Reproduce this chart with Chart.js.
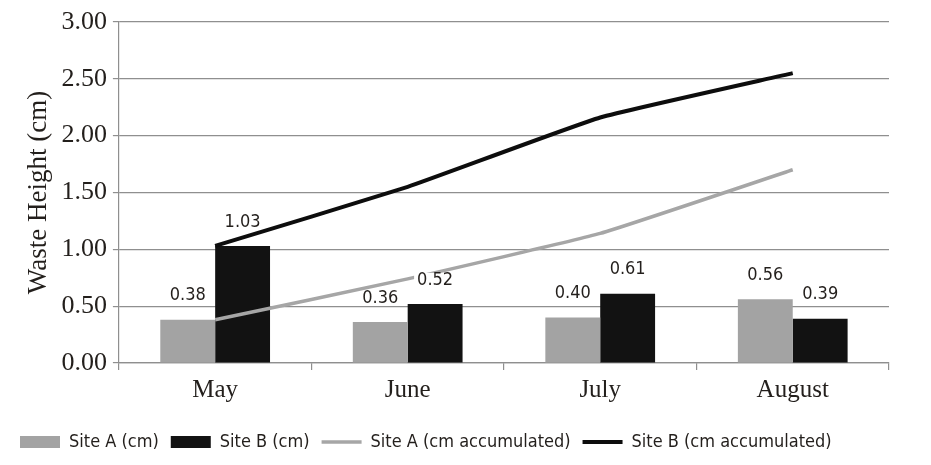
<!DOCTYPE html>
<html>
<head>
<meta charset="utf-8">
<script src="https://cdn.jsdelivr.net/npm/chart.js@4.4.1/dist/chart.umd.min.js"></script>
<style>
  html, body { margin: 0; padding: 0; background: #fff; }
  #wrap { width: 931px; height: 465px; }
</style>
</head>
<body>
<div id="wrap"><canvas id="chart"></canvas></div>
<script>
// =============================
// DATA
// =============================
const months = ["May", "June", "July", "August"];
const siteA = [0.38, 0.36, 0.40, 0.56];
const siteB = [1.03, 0.52, 0.61, 0.39];
const siteAAccum = [0.38, 0.74, 1.14, 1.70];
const siteBAccum = [1.03, 1.55, 2.16, 2.55];
const yTicks = [0, 0.5, 1, 1.5, 2, 2.5, 3];

const textColor = "#231f1c";
const gridColor = "#8f8f8f";
const serif = "'Liberation Serif', 'Times New Roman', serif";
const narrow = "'DejaVu Sans Condensed', 'DejaVu Sans', sans-serif";

// =============================
// Value labels above the bars
// =============================
const barLabels = {
  id: "barLabels",
  afterDatasetsDraw(chart) {
    const ctx = chart.ctx;
    ctx.save();
    ctx.font = "condensed 18px " + narrow;
    ctx.textAlign = "center";
    ctx.textBaseline = "middle";
    chart.data.datasets.forEach((ds, i) => {
      if (ds.type !== "bar") return;
      const meta = chart.getDatasetMeta(i);
      meta.data.forEach((bar, j) => {
        const txt = ds.data[j].toFixed(2);
        const w = ctx.measureText(txt).width;
        const y = bar.y - 24;
        ctx.fillStyle = "#fff";
        ctx.fillRect(bar.x - w / 2 - 3, y - 7, w + 6, 14);
        ctx.fillStyle = textColor;
        ctx.fillText(txt, bar.x, y);
      });
    });
    ctx.restore();
  }
};

new Chart(document.getElementById("chart"), {
  data: {
    labels: months,
    datasets: [
      { type: "bar", label: "Site A (cm)", data: siteA, backgroundColor: "#a3a3a3",
        borderWidth: 0, pointStyle: "rect", order: 1,
        categoryPercentage: 0.57, barPercentage: 1.0 },
      { type: "bar", label: "Site B (cm)", data: siteB, backgroundColor: "#121212",
        borderWidth: 0, pointStyle: "rect", order: 1,
        categoryPercentage: 0.57, barPercentage: 1.0 },
      { type: "line", label: "Site A (cm accumulated)", data: siteAAccum,
        borderColor: "#a6a6a6", backgroundColor: "#a6a6a6", borderWidth: 3.5,
        pointRadius: 0, pointStyle: "line", tension: 0.12, order: 0 },
      { type: "line", label: "Site B (cm accumulated)", data: siteBAccum,
        borderColor: "#0d0d0d", backgroundColor: "#0d0d0d", borderWidth: 4,
        pointRadius: 0, pointStyle: "line", tension: 0.12, order: 0 }
    ]
  },
  options: {
    responsive: true,
    maintainAspectRatio: false,
    animation: false,
    layout: { padding: { left: 8, right: 42, top: 22, bottom: 4 } },
    plugins: {
      legend: {
        position: "bottom",
        align: "start",
        labels: {
          usePointStyle: true,
          pointStyleWidth: 40,
          boxHeight: 12,
          padding: 12,
          color: textColor,
          font: { family: narrow, size: 18, weight: "condensed" },
          sort: (a, b) => a.datasetIndex - b.datasetIndex
        }
      },
      tooltip: { enabled: false }
    },
    scales: {
      x: {
        offset: true,
        afterFit: (scale) => { scale.height += 11; },
        grid: { drawOnChartArea: false, offset: true, tickLength: 7, color: gridColor, lineWidth: 1.2 },
        border: { color: gridColor, width: 1.2 },
        ticks: { color: textColor, font: { family: serif, size: 25 }, padding: 5 }
      },
      y: {
        min: 0,
        max: 3,
        afterBuildTicks: (axis) => { axis.ticks = yTicks.map(v => ({ value: v })); },
        grid: { color: gridColor, lineWidth: 1.2, tickLength: 6 },
        border: { color: gridColor, width: 1.2 },
        ticks: { color: textColor, font: { family: serif, size: 26 }, padding: 6,
                 callback: v => Number(v).toFixed(2) },
        title: { display: true, text: "Waste Height (cm)", color: textColor,
                 font: { family: serif, size: 27 }, padding: { top: 15, bottom: 0 } }
      }
    }
  },
  plugins: [barLabels]
});
</script>
</body>
</html>
